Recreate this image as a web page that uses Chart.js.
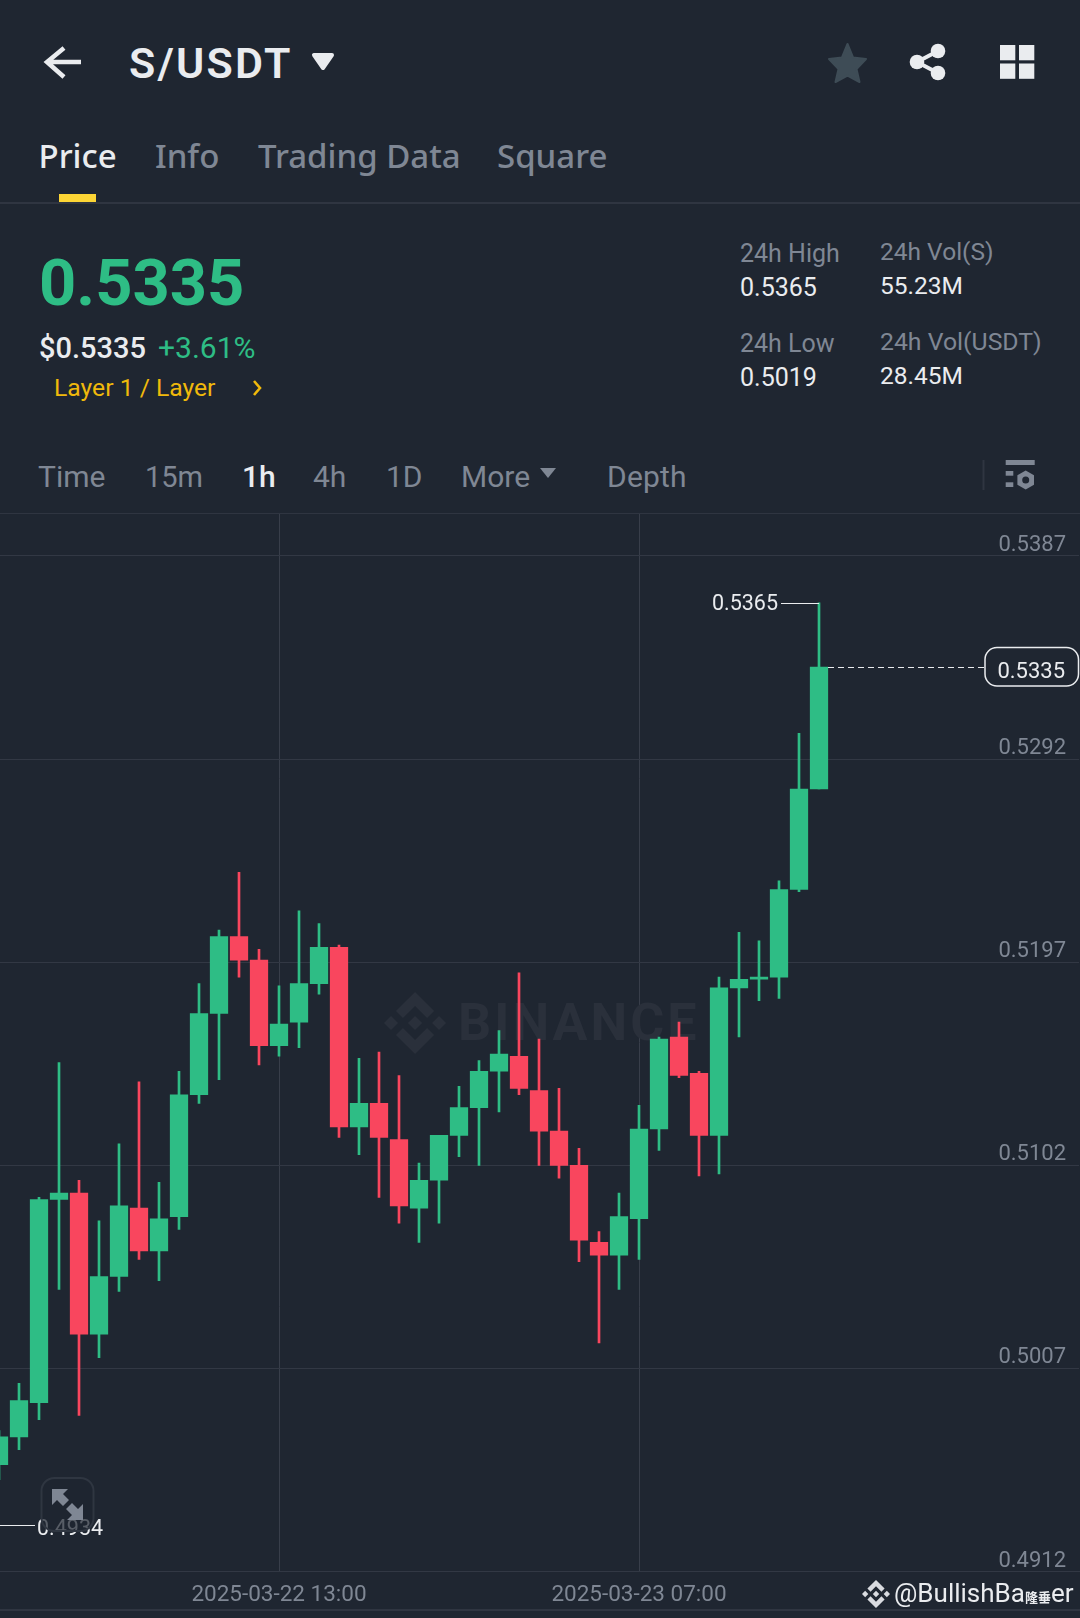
<!DOCTYPE html>
<html><head><meta charset="utf-8">
<script src="https://cdn.jsdelivr.net/npm/chart.js@4"></script>
<style>
html,body{margin:0;padding:0;background:#1f2631;width:1080px;height:1618px;overflow:hidden}
body{position:relative;font-family:Roboto,sans-serif}
.t{position:absolute;white-space:nowrap;transform:translateY(-50%);line-height:1.2}
.g{color:#7f8794}.w{color:#eaecef}.up{color:#2ebd85}
.n{font-family:'Noto Sans',sans-serif}
.hr{position:absolute;left:0;width:1080px;height:1.5px;background:#2f3541}
svg,canvas{position:absolute}
</style></head><body>
<svg style="left:0;top:0" width="1080" height="520">
 <path d="M81 62H49M64 48L47 62L64 77" fill="none" stroke="#eaecef" stroke-width="4.5"/>
 <path d="M314 55H332L323 68Z" fill="#eaecef" stroke="#eaecef" stroke-width="4" stroke-linejoin="round"/>
 <path d="M847.5 44L853 57.5L866 59L856.5 69L859.5 82L847.5 75.5L835.500 82L838.500 69L829 59L842 57.500Z" fill="#3e4c56" stroke="#3e4c56" stroke-width="2" stroke-linejoin="round"/>
 <g fill="#eaecef"><circle cx="938" cy="51" r="7.300"/><circle cx="917" cy="62" r="7.300"/><circle cx="938" cy="73" r="7.300"/>
  <path d="M938 51L917 62L938 73" fill="none" stroke="#eaecef" stroke-width="4"/>
  <rect x="1000" y="45" width="15.300" height="15.300"/><rect x="1019" y="45" width="15.300" height="15.300"/><rect x="1000" y="63.500" width="15.300" height="15.300"/><rect x="1019" y="63.500" width="15.300" height="15.300"/></g>
 <rect x="59" y="194" width="37" height="8" fill="#fcd535"/>
 <path d="M254 381L260 388L254 395" fill="none" stroke="#f0b90b" stroke-width="2.600"/>
 <path d="M540 468H556L548 478Z" fill="#7f8794"/>
 <rect x="982.500" y="460" width="2" height="30" fill="#2f3541"/>
 <g fill="#7f8794"><rect x="1005.700" y="460" width="29" height="5"/><rect x="1005.700" y="471" width="7.600" height="4.700"/><rect x="1005.700" y="482.300" width="7.600" height="4.700"/>
  <path d="M1025.700 470.500L1034 475.200V484.800L1025.700 489.500L1017.400 484.800V475.200Z"/><circle cx="1025.700" cy="480" r="3.500" fill="#1f2631"/></g>
</svg>
<div class="hr" style="top:202px"></div>
<div class="hr" style="top:512.5px"></div>
<div class="hr" style="top:1609px"></div>

<div class="t w" style="left:129px;top:64px;font-size:43px;font-weight:600;letter-spacing:2.2px">S/USDT</div>
<div class="t w n" style="left:38.500px;top:155.500px;font-size:33px;font-weight:500">Price</div>
<div class="t g n" style="left:155px;top:155.500px;font-size:33px;font-weight:500">Info</div>
<div class="t g n" style="left:258px;top:155.500px;font-size:33px;font-weight:500">Trading Data</div>
<div class="t g n" style="left:497px;top:155.500px;font-size:33px;font-weight:500">Square</div>

<div class="t up" style="left:39px;top:283px;font-size:65px;font-weight:700">0.5335</div>
<div class="t w" style="left:39px;top:348px;font-size:29px;font-weight:500">$0.5335</div>
<div class="t up" style="left:158px;top:348px;font-size:30px">+3.61%</div>
<div class="t" style="left:54px;top:388px;font-size:24.700px;color:#f0b90b">Layer 1 / Layer</div>

<div class="t g" style="left:740px;top:254px;font-size:25px">24h High</div>
<div class="t w" style="left:740px;top:288px;font-size:25px">0.5365</div>
<div class="t g" style="left:740px;top:344px;font-size:25px">24h Low</div>
<div class="t w" style="left:740px;top:378px;font-size:25px">0.5019</div>
<div class="t g" style="left:880px;top:252px;font-size:24.500px">24h Vol(S)</div>
<div class="t w" style="left:880px;top:286px;font-size:24.500px">55.23M</div>
<div class="t g" style="left:880px;top:342px;font-size:24.800px">24h Vol(USDT)</div>
<div class="t w" style="left:880px;top:376px;font-size:24.500px">28.45M</div>

<div class="t g" style="left:38px;top:477px;font-size:30px">Time</div>
<div class="t g" style="left:145px;top:477px;font-size:29px">15m</div>
<div class="t w" style="left:242px;top:477px;font-size:30px;font-weight:500">1h</div>
<div class="t g" style="left:313px;top:477px;font-size:30px">4h</div>
<div class="t g" style="left:386px;top:477px;font-size:30px">1D</div>
<div class="t g" style="left:461px;top:477px;font-size:30px">More</div>
<div class="t g" style="left:607px;top:477px;font-size:30px;letter-spacing:.2px">Depth</div>

<canvas id="c" width="1081" height="1104" style="left:-1px;top:514px"></canvas>

<svg style="left:0;top:1470px" width="110" height="70">
 <rect x="41.500" y="8" width="52" height="53" rx="13" fill="#1f2631" fill-opacity=".72" stroke="#2f3641" stroke-width="2"/>
 <g fill="#7f8794"><path d="M52 19H68L63 24L69 30L63 36L57 30L52 35Z"/><path d="M83 50H67L72 45L66 39L72 33L78 39L83 34Z"/></g>
</svg>
<svg style="left:862px;top:1580px" width="28" height="28" viewBox="0 0 126.610 126.610"><path id="bn" fill="#d9dbe0" d="M38.730 53.200l24.590-24.580 24.600 24.600 14.300-14.310L63.320 0 24.420 38.900zM0 63.310l14.300-14.310 14.310 14.310-14.310 14.300zM38.730 73.410l24.590 24.590 24.600-24.600 14.310 14.290-38.900 38.910-38.910-38.880v-.03zM98 63.310L112.300 49l14.310 14.300-14.310 14.320zM77.830 63.300L63.320 48.780 52.590 59.510l-1.240 1.230-2.540 2.540 14.510 14.500 14.510-14.470z"/></svg>
<div class="t w" style="left:894px;top:1594px;font-size:26px">@BullishBa<span style="font-size:13px;font-family:'Noto Sans CJK SC';font-weight:700">隆垂</span>er</div>

<script>
const labels = ["2025-03-21 23:00","2025-03-22 00:00","2025-03-22 01:00","2025-03-22 02:00","2025-03-22 03:00","2025-03-22 04:00","2025-03-22 05:00","2025-03-22 06:00","2025-03-22 07:00","2025-03-22 08:00","2025-03-22 09:00","2025-03-22 10:00","2025-03-22 11:00","2025-03-22 12:00","2025-03-22 13:00","2025-03-22 14:00","2025-03-22 15:00","2025-03-22 16:00","2025-03-22 17:00","2025-03-22 18:00","2025-03-22 19:00","2025-03-22 20:00","2025-03-22 21:00","2025-03-22 22:00","2025-03-22 23:00","2025-03-23 00:00","2025-03-23 01:00","2025-03-23 02:00","2025-03-23 03:00","2025-03-23 04:00","2025-03-23 05:00","2025-03-23 06:00","2025-03-23 07:00","2025-03-23 08:00","2025-03-23 09:00","2025-03-23 10:00","2025-03-23 11:00","2025-03-23 12:00","2025-03-23 13:00","2025-03-23 14:00","2025-03-23 15:00","2025-03-23 16:00","","","","","","","","","","","","",""];
const opens  = [0.4962,0.4975,0.4991,0.5086,0.5089,0.5023,0.5050,0.5082,0.5062,0.5078,0.5135,0.5173,0.5209,0.5198,0.5158,0.5169,0.5187,0.5204,0.5120,0.5131,0.5114,0.5082,0.5095,0.5116,0.5129,0.5146,0.5153,0.5137,0.5118,0.5102,0.5066,0.5060,0.5077,0.5119,0.5162,0.5145,0.5116,0.5185,0.5189,0.5190,0.5231,0.5278];
const closes = [0.4975,0.4992,0.5086,0.5089,0.5023,0.5050,0.5083,0.5062,0.5077,0.5135,0.5173,0.5209,0.5198,0.5158,0.5168,0.5187,0.5204,0.5120,0.5131,0.5115,0.5083,0.5095,0.5116,0.5129,0.5146,0.5154,0.5138,0.5118,0.5102,0.5067,0.5060,0.5078,0.5119,0.5161,0.5144,0.5116,0.5185,0.5189,0.5190,0.5231,0.5278,0.5335];
const highs  = [0.4978,0.5000,0.5087,0.5150,0.5095,0.5076,0.5112,0.5141,0.5094,0.5146,0.5187,0.5212,0.5239,0.5203,0.5186,0.5221,0.5215,0.5205,0.5152,0.5155,0.5144,0.5103,0.5116,0.5139,0.5151,0.5165,0.5192,0.5161,0.5138,0.5110,0.5071,0.5089,0.5130,0.5162,0.5169,0.5146,0.5190,0.5211,0.5207,0.5235,0.5304,0.5365];
const lows   = [0.4955,0.4969,0.4983,0.5044,0.4985,0.5012,0.5043,0.5058,0.5048,0.5072,0.5131,0.5142,0.5190,0.5149,0.5153,0.5157,0.5182,0.5115,0.5107,0.5087,0.5075,0.5066,0.5075,0.5106,0.5102,0.5127,0.5135,0.5102,0.5096,0.5057,0.5019,0.5044,0.5058,0.5109,0.5143,0.5097,0.5098,0.5162,0.5179,0.5180,0.5230,0.5278];
const yTicks = [0.4912,0.5007,0.5102,0.5197,0.5292,0.5387];
const xTickLabels = ["2025-03-22 13:00","2025-03-23 07:00"];
const lastPrice = 0.5335, windowHigh = 0.5365, windowLow = 0.4934;

const UP='#2ebd85', DOWN='#f9465e', GRID='#323844', GRIDV='#383e4a', GREY='#7f8794', BG='#1f2631', WHITE='#eaecef';
const colors = opens.map((o,i)=> closes[i]>=o ? UP : DOWN);
const logo = new Path2D(document.getElementById('bn').getAttribute('d'));

const overlays = {
  id:'overlays',
  beforeDatasetsDraw(ch){
    const c=ch.ctx; c.save();
    c.fillStyle='#2a303b';
    c.translate(385,478); c.scale(.49,.49); c.fill(logo); c.restore();
    c.save(); c.fillStyle='#2a303b'; c.font='700 52px Roboto,sans-serif'; c.textBaseline='middle'; c.textAlign='left';
    c.letterSpacing='3px'; c.fillText('BINANCE',459,513); c.restore();
  },
  afterDatasetsDraw(ch){
    const c=ch.ctx, x=ch.scales.x, y=ch.scales.y, last=opens.length-1;
    const px=x.getPixelForValue(last);
    c.save(); c.font='21.5px Roboto,sans-serif'; c.textBaseline='middle'; c.fillStyle=WHITE; c.strokeStyle=WHITE; c.lineWidth=1;
    let yy=Math.round(y.getPixelForValue(windowHigh))+.5;
    c.textAlign='right'; c.fillText(windowHigh.toFixed(4),px-41,yy+1);
    c.beginPath(); c.moveTo(px-38,yy); c.lineTo(px,yy); c.stroke();
    yy=Math.round(y.getPixelForValue(windowLow))+.5;
    c.textAlign='left'; c.fillText(windowLow.toFixed(4),38,yy+4);
    c.beginPath(); c.moveTo(0,yy); c.lineTo(36,yy); c.stroke();
    yy=Math.round(y.getPixelForValue(lastPrice))+.5;
    c.setLineDash([6,4]); c.beginPath(); c.moveTo(px+9,yy); c.lineTo(985,yy); c.stroke(); c.setLineDash([]);
    c.lineWidth=1.5; c.fillStyle=BG; c.beginPath(); c.roundRect(986,yy-20,93.500,38.500,12); c.fill(); c.stroke();
    c.fillStyle=WHITE; c.font='22px Roboto,sans-serif'; c.textAlign='right'; c.fillText(lastPrice.toFixed(4),1066,yy+5);
    c.restore();
  }
};

new Chart(document.getElementById('c'),{
  type:'bar',
  plugins:[overlays],
  data:{labels,datasets:[
    {label:'Wick',data:lows.map((l,i)=>[l,highs[i]]),backgroundColor:colors,barThickness:2,grouped:false,borderWidth:0,order:2},
    {label:'Body',data:opens.map((o,i)=>[o,closes[i]]),backgroundColor:colors,barThickness:17.600,grouped:false,borderWidth:0,order:1}
  ]},
  options:{
    responsive:false,animation:false,devicePixelRatio:1,
    layout:{padding:{left:0,right:1,top:0,bottom:0}},
    plugins:{legend:{display:false},tooltip:{enabled:false}},
    scales:{
      x:{type:'category',offset:false,
        grid:{color:GRIDV,offset:false,drawTicks:false,lineWidth:1},
        border:{display:true,color:GRID,width:1},
        afterBuildTicks:s=>{s.ticks=s.ticks.filter(t=>xTickLabels.includes(labels[t.value]))},
        afterFit:s=>{s.height=46.4;s.paddingLeft=0;s.paddingRight=0},
        ticks:{autoSkip:false,maxRotation:0,padding:10,color:GREY,font:{family:'Roboto',size:22.5},callback:v=>labels[v]}
      },
      y:{type:'linear',position:'right',min:0.4912,max:0.54066,
        grid:{color:GRID,drawTicks:false,lineWidth:1},
        border:{display:false},
        afterBuildTicks:s=>{s.ticks=yTicks.map(value=>({value}))},
        afterFit:s=>{s.width=0;s.paddingTop=0;s.paddingBottom=0},
        ticks:{mirror:true,padding:-13,labelOffset:-10.5,color:GREY,font:{family:'Roboto',size:22},callback:v=>v.toFixed(4)}
      }
    }
  }
});
</script>
</body></html>
